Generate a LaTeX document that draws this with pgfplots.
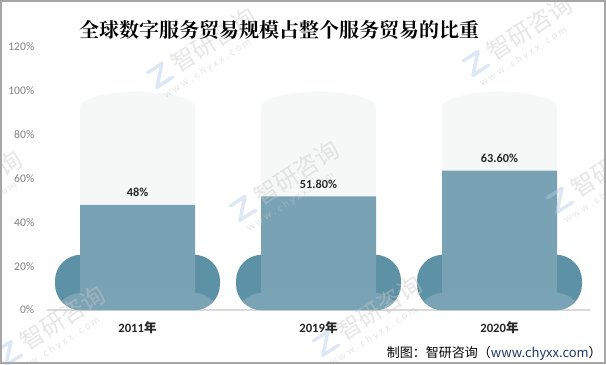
\documentclass[border=0pt]{standalone}
\usepackage{pgfplots}
\pgfplotsset{compat=1.18}
\usepackage{fontspec}
\setmainfont{Carlito}
\newfontfamily\cjk{Noto Sans CJK SC}
\newfontfamily\cjkserif{Noto Serif CJK SC}
\definecolor{bgc}{HTML}{F6F8F8}
\definecolor{valc}{HTML}{79A3B4}
\definecolor{darkc}{HTML}{5D91A5}
\definecolor{lightc}{HTML}{7AA4B5}
\definecolor{tickc}{HTML}{808080}
\definecolor{txtc}{HTML}{262626}
\definecolor{framec}{HTML}{A6A6A6}
\definecolor{basec}{HTML}{D9D9D9}
\definecolor{linkc}{HTML}{1F3A68}
\definecolor{wmgray}{HTML}{C8C8C8}
\definecolor{wmblue}{HTML}{B4CCE8}
\newcommand{\wm}[2]{%
  \begin{scope}[shift={(#1,#2)}, rotate=33, opacity=0.45, transform shape]
    \draw[wmblue, line width=2.6pt, line cap=round, line join=round] (-7,6.5)--(6,6.5)--(-7,-6.5)--(7,-6.5);
    \node[anchor=west, inner sep=0pt, text=wmgray, font=\cjk\fontsize{18}{18}\selectfont] at (12,0) {智研咨询};
    \node[anchor=west, inner sep=0pt, text=wmgray, font=\fontsize{8}{8}\selectfont] at (-6,-15.5) {w w w . c h y x x . c o m};
  \end{scope}}
\begin{document}
\begin{tikzpicture}[x=1pt,y=1pt]
\useasboundingbox (0,0) rectangle (454.5,273);
\fill[white] (0,0) rectangle (454.5,273);
\begin{axis}[
  at={(35.25pt,40.5pt)}, anchor=south west,
  scale only axis, width=407.25pt, height=197.25pt,
  xmin=-0.5, xmax=2.5, ymin=0, ymax=120,
  axis lines*=left,
  x axis line style={draw=basec, line width=0.8pt},
  y axis line style={draw=none},
  major tick length=0pt,
  ytick={0,20,40,60,80,100,120},
  yticklabel={\pgfmathprintnumber{\tick}\%},
  /pgf/number format/assume math mode=true,
  yticklabel style={font=\fontsize{8.7}{9}\selectfont, text=tickc, xshift=-6pt},
  xtick={0,1,2},
  xticklabels={{\bfseries 2011{\cjk 年}},{\bfseries 2019{\cjk 年}},{\bfseries 2020{\cjk 年}}},
  xticklabel style={font=\fontsize{9.5}{10}\selectfont, text=txtc, yshift=-5.5pt},
  clip mode=individual, clip=false,
]
% background columns up to 100%
\addplot[ybar, bar width=86.25pt, bar shift=0pt, fill=bgc, draw=none] coordinates {(0,92.2) (1,92.2) (2,92.2)};
\addplot[color=bgc, only marks, mark=*, mark size=43.125pt, mark options={yscale=0.278, fill=bgc, draw=bgc}] coordinates {(0,92.2) (1,92.2) (2,92.2)};
% base discs (dark, with lighter lower segment)
\addplot[draw=none, mark=none, point meta=explicit symbolic, nodes near coords,
  nodes near coords align={center},
  every node near coord/.append style={rectangle, rounded corners=19.5pt, fill=darkc, minimum width=123.75pt, minimum height=41.6pt,
    inner sep=0pt, outer sep=0pt, anchor=center, yshift=0pt,
    path picture={\fill[lightc] ([yshift=-2pt]path picture bounding box.south west) rectangle ([yshift=13pt]path picture bounding box.south east);}}]
  coordinates {(0,12.55) [] (1,12.55) [] (2,12.55) []};
% value bars
\begin{scope}
\clip (axis cs:-0.5,7.9) rectangle (axis cs:2.5,125);
\addplot[ybar, bar width=86.25pt, bar shift=0pt, fill=valc, draw=none,
  point meta=explicit symbolic, nodes near coords,
  every node near coord/.append style={font=\fontsize{9.2}{10}\selectfont\bfseries, text=txtc, yshift=2.5pt}]
  coordinates {(0,48) [48\%] (1,51.8) [51.80\%] (2,63.6) [63.60\%]};
\end{scope}
\end{axis}
% watermarks
\wm{120}{216.75}
\wm{182.25}{117}
\wm{6.75}{8.25}
\wm{244.5}{15.75}
\wm{357}{225.75}
\wm{420}{123}
\wm{-55.5}{109.5}
\draw[framec, line width=1.5pt] (0.75,0.75) rectangle (453.75,272.25);
\node[font=\cjkserif\bfseries\fontsize{15}{17}\selectfont, text=black] at (209.25,250.5) {全球数字服务贸易规模占整个服务贸易的比重};
\node[anchor=east, inner sep=0pt, font=\cjk\fontsize{9.75}{11}\selectfont] at (451.5,8.25) {制图：智研咨询（\textcolor{linkc}{www.chyxx.com}）};
\end{tikzpicture}
\end{document}
